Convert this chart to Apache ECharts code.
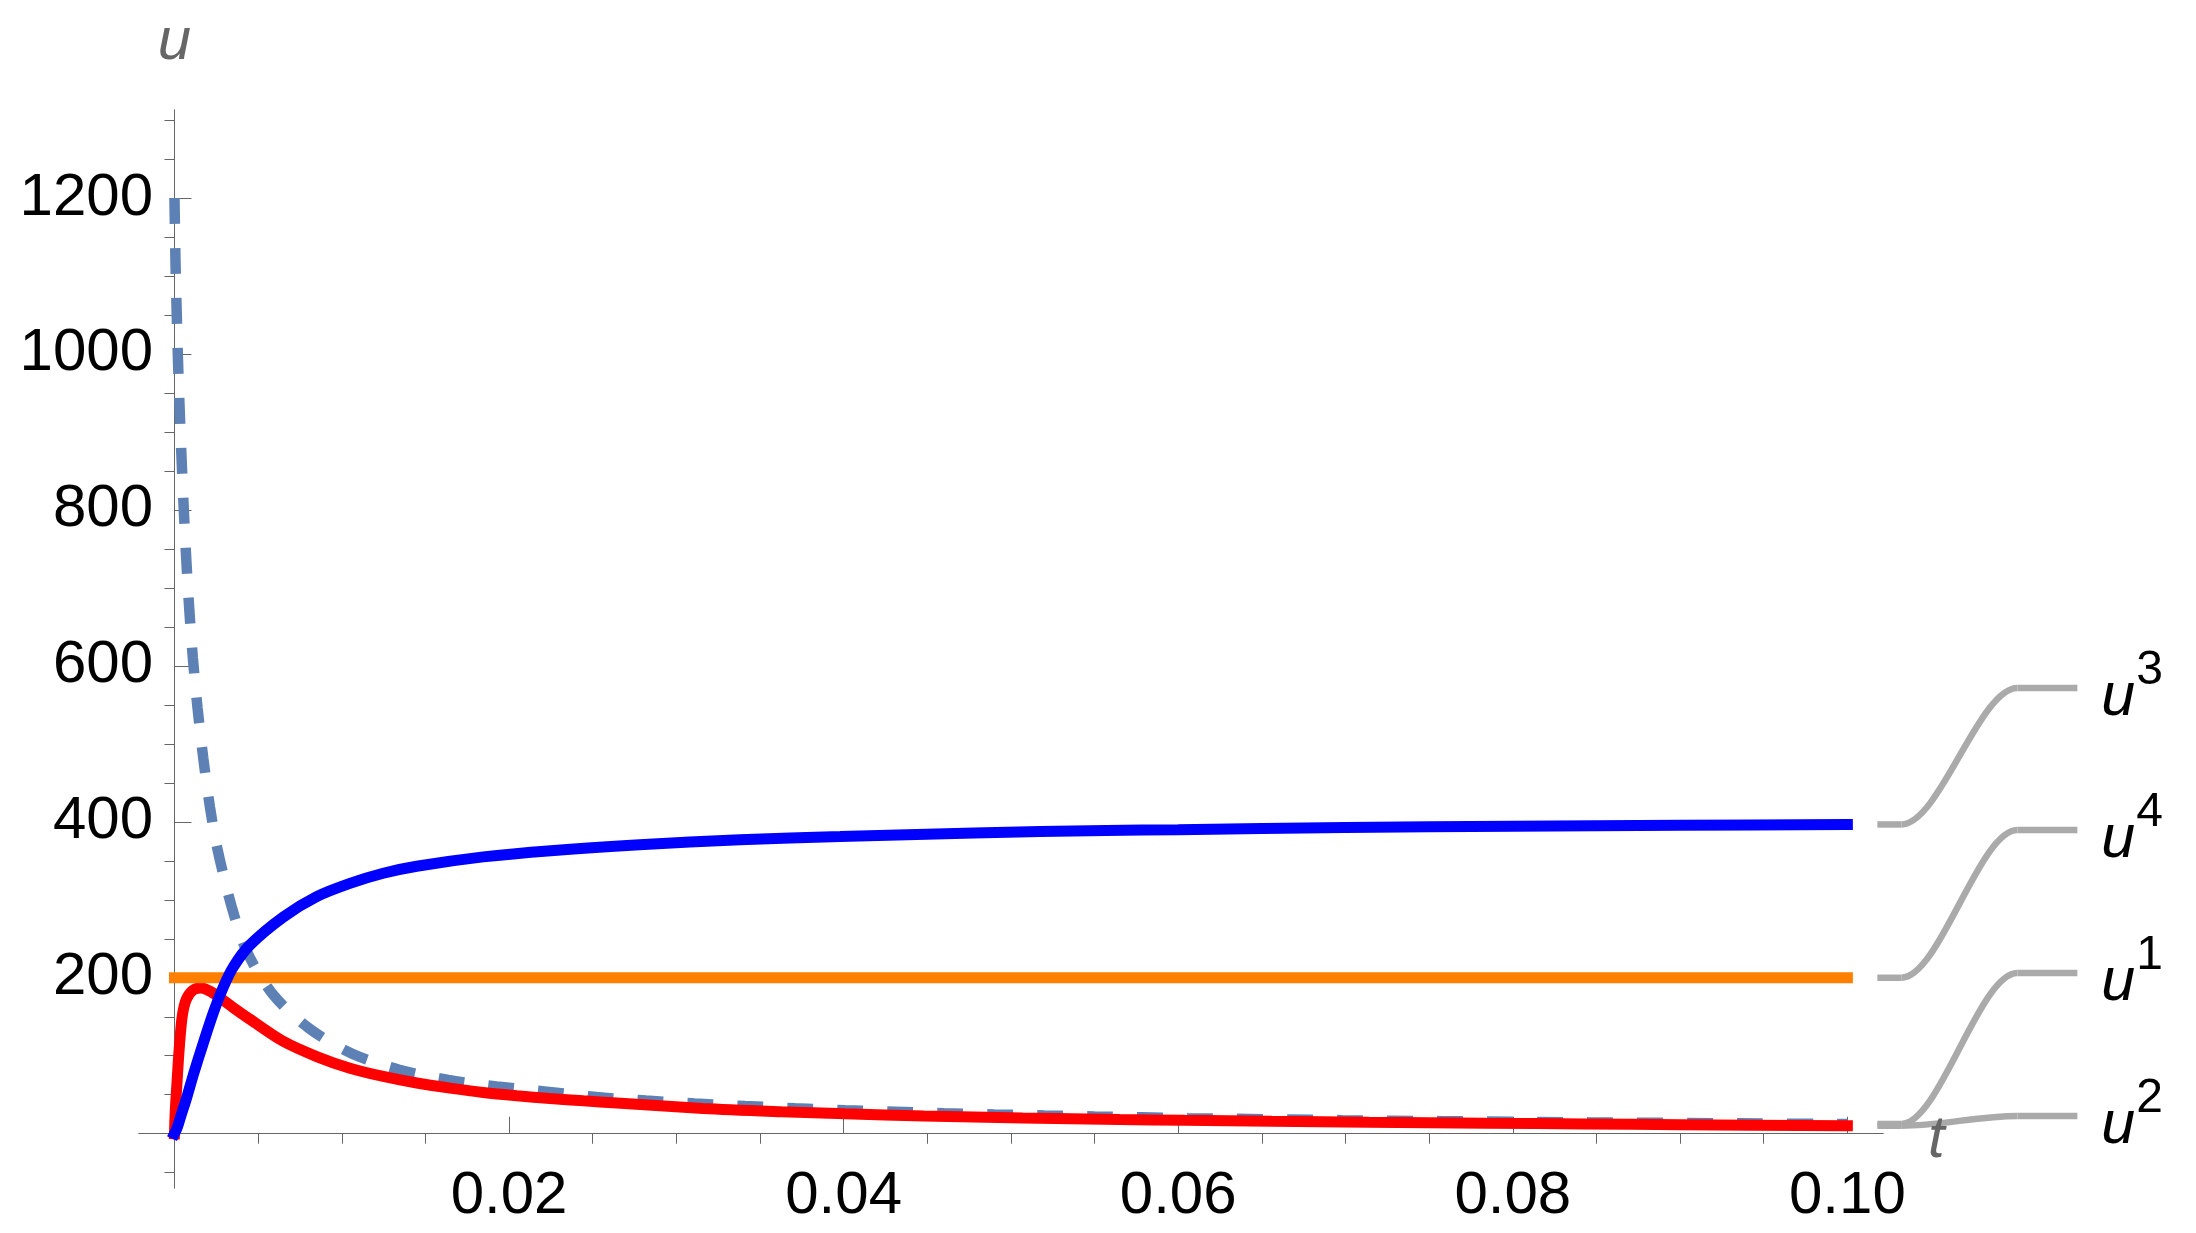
<!DOCTYPE html>
<html>
<head>
<meta charset="utf-8">
<script src="https://cdn.jsdelivr.net/npm/echarts@6/dist/echarts.min.js"></script>
<style>
html, body { margin: 0; padding: 0; background: #fff; }
#chart { width: 2196px; height: 1233px; }
</style>
</head>
<body>
<div id="chart"></div>
<script>
// values (t on x, u on y)
const u1T = [0, 0.00006, 0.00013, 0.00021, 0.00031, 0.00043, 0.00056, 0.00071, 0.00089, 0.0011, 0.00138, 0.00172, 0.00212, 0.00254, 0.00342, 0.00432, 0.00591, 0.00806, 0.01059, 0.01344, 0.01637, 0.01926, 0.02225, 0.02524, 0.0282, 0.0311, 0.0341, 0.0371, 0.0401, 0.0431, 0.046, 0.049, 0.052, 0.055, 0.0606, 0.0698, 0.0758, 0.0845, 0.0935, 0.1]
const u1 = [1200, 1120, 1056, 992, 929, 863, 799, 735, 671, 610, 546, 482, 419, 368, 291, 234, 178, 135, 103, 82, 69, 60.6, 54, 47, 42.5, 38.8, 35.5, 32.7, 30.2, 28.2, 26.4, 24.8, 23.4, 22.1, 20, 17.4, 16.1, 14.6, 13.3, 12.5]

const u2T = [0, 0.00005, 0.00015, 0.00028, 0.00046, 0.0007, 0.0011, 0.0016, 0.0022, 0.0028, 0.0035, 0.0045, 0.0065, 0.0085, 0.01049, 0.01248, 0.01448, 0.01647, 0.01846, 0.02046, 0.02245, 0.02444, 0.02644, 0.0316, 0.0363, 0.0401, 0.0448, 0.0507, 0.0565, 0.0604, 0.0656, 0.0714, 0.0784, 0.0843, 0.09, 0.1]
const u2 = [0, 30, 65, 108, 150, 172, 184, 187, 182, 173, 162, 147, 118.5, 99, 84, 73.4, 65, 58.5, 52.9, 48.7, 45.2, 42.2, 39.4, 32.4, 28.2, 25.5, 22.8, 20.2, 18.3, 17.2, 16, 14.8, 13.5, 12.5, 11.6, 10.2]

const u3T = [0, 0.00015, 0.0004, 0.0007, 0.00112, 0.00172, 0.00232, 0.00292, 0.00352, 0.00451, 0.00651, 0.0085, 0.01049, 0.01248, 0.01448, 0.01846, 0.0225, 0.0278, 0.0338, 0.0398, 0.0478, 0.0557, 0.06, 0.07, 0.08, 0.09, 0.1]
const u3 = [0, 7, 24, 44, 75, 116, 155, 188, 214, 242, 278, 304, 321, 334, 343, 355, 363, 370.5, 377, 381, 385.8, 388.8, 389.9, 392.8, 394.4, 395.6, 396.6]

const u4T = [0, 0.1]
const u4 = [200, 200]

const xMajor = [0.02, 0.04, 0.06, 0.08, 0.10]
const xMinor = [0.005, 0.01, 0.015, 0.025, 0.03, 0.035, 0.045, 0.05, 0.055, 0.065, 0.07, 0.075, 0.085, 0.09, 0.095]
const yMajor = [200, 400, 600, 800, 1000, 1200]
const yMinor = [-50, 50, 100, 150, 250, 300, 350, 450, 500, 550, 650, 700, 750, 850, 900, 950, 1050, 1100, 1150, 1250, 1300]

const callouts = ['3', '4', '1', '2']

const font = '"Liberation Sans", Arial, sans-serif'
const axisGray = '#666666'

const zip = (ts, vs) => ts.map((t, i) => [t, vs[i]])

const chart = echarts.init(document.getElementById('chart'))

const xRange = { min: -0.00212, max: 0.10213 }
const yRange = { min: -69.6, max: 1312.8 }

const option = {
    animation: false,
    grid: { left: 139, top: 110, width: 1744, height: 1078, containLabel: false, outerBoundsMode: 'none' },
    xAxis: [{
        type: 'value', ...xRange, position: 'bottom',
        axisLine: { onZero: true, onZeroAxisIndex: 0, lineStyle: { color: axisGray, width: 1 } },
        axisTick: { customValues: xMajor, inside: true, length: 17, lineStyle: { color: axisGray, width: 1 } },
        axisLabel: {
            customValues: xMajor, formatter: v => v.toFixed(2),
            fontSize: 60, color: '#000', fontFamily: font, margin: -22
        },
        splitLine: { show: false },
        name: 't', nameLocation: 'end', nameGap: 45,
        nameTextStyle: {
            fontSize: 60, fontStyle: 'italic', color: axisGray, fontFamily: font,
            verticalAlign: 'top', lineHeight: 14
        }
    }, {
        type: 'value', ...xRange, position: 'bottom',
        axisLine: { onZero: true, onZeroAxisIndex: 1, lineStyle: { color: axisGray, width: 1 } },
        axisTick: { customValues: xMinor, inside: false, length: 10, lineStyle: { color: axisGray, width: 1 } },
        axisLabel: { show: false },
        splitLine: { show: false }
    }],
    yAxis: [{
        type: 'value', ...yRange, position: 'left',
        axisLine: { onZero: true, onZeroAxisIndex: 0, lineStyle: { color: axisGray, width: 1 } },
        axisTick: { customValues: yMajor, inside: true, length: 17, lineStyle: { color: axisGray, width: 1 } },
        axisLabel: {
            customValues: yMajor, formatter: v => String(v),
            fontSize: 60, color: '#000', fontFamily: font, margin: -14
        },
        splitLine: { show: false },
        name: 'u', nameLocation: 'end', nameGap: 38,
        nameTextStyle: { fontSize: 60, fontStyle: 'italic', color: axisGray, fontFamily: font }
    }, {
        type: 'value', ...yRange, position: 'left',
        axisLine: { onZero: true, onZeroAxisIndex: 1, lineStyle: { color: axisGray, width: 1 } },
        axisTick: { customValues: yMinor, inside: false, length: 10, lineStyle: { color: axisGray, width: 1 } },
        axisLabel: { show: false },
        splitLine: { show: false }
    }],
    series: [
        {
            name: 'u1', type: 'line', data: zip(u1T, u1), showSymbol: false, symbol: 'none',
            smooth: 0.3,
            lineStyle: { color: '#5E81B5', width: 10.5, type: [26, 24] }
        },
        {
            name: 'u2', type: 'line', data: zip(u2T, u2), showSymbol: false, symbol: 'none',
            smooth: 0.3,
            lineStyle: { color: '#FF0000', width: 11, cap: 'square' }
        },
        {
            name: 'u4', type: 'line', data: zip(u4T, u4), showSymbol: false, symbol: 'none',
            lineStyle: { color: '#FF8000', width: 11, cap: 'square' }
        },
        {
            name: 'u3', type: 'line', data: zip(u3T, u3), showSymbol: false, symbol: 'none',
            smooth: 0.3,
            lineStyle: { color: '#0000FF', width: 11, cap: 'square' }
        }
    ]
}
chart.setOption(option)

// callout leaders from each curve's end to its label, like PlotLabels
const ends = [
    u3[u3.length - 1],
    u4[u4.length - 1],
    u1[u1.length - 1],
    u2[u2.length - 1]
]
const tEnd = 0.1
const calloutY = [688, 830, 973, 1116]
const graphic = []
ends.forEach((v, i) => {
    const p = chart.convertToPixel({ xAxisIndex: 0, yAxisIndex: 0 }, [tEnd, v])
    const x0 = p[0] + 30, y0 = p[1]
    const x1 = x0 + 24, x2 = x0 + 140, x3 = x0 + 200
    const y1 = calloutY[i]
    const ls = { stroke: '#AAAAAA', lineWidth: 6.5, fill: null }
    graphic.push({ type: 'line', shape: { x1: x0, y1: y0, x2: x1, y2: y0 }, style: ls, silent: true })
    graphic.push({
        type: 'bezierCurve',
        shape: { x1: x1, y1: y0, cpx1: x1 + 38, cpy1: y0, cpx2: x2 - 38, cpy2: y1, x2: x2, y2: y1 },
        style: ls, silent: true
    })
    graphic.push({ type: 'line', shape: { x1: x2, y1: y1, x2: x3, y2: y1 }, style: ls, silent: true })
    graphic.push({
        type: 'text', x: x3 + 24, y: y1 + 10,
        style: { text: 'u', font: 'italic 61px ' + font, fill: '#000', verticalAlign: 'middle', align: 'left' },
        silent: true
    })
    graphic.push({
        type: 'text', x: x3 + 59, y: y1 - 17,
        style: { text: callouts[i], font: '48px ' + font, fill: '#000', verticalAlign: 'middle', align: 'left' },
        silent: true
    })
})
chart.setOption({ graphic })
</script>
</body>
</html>
